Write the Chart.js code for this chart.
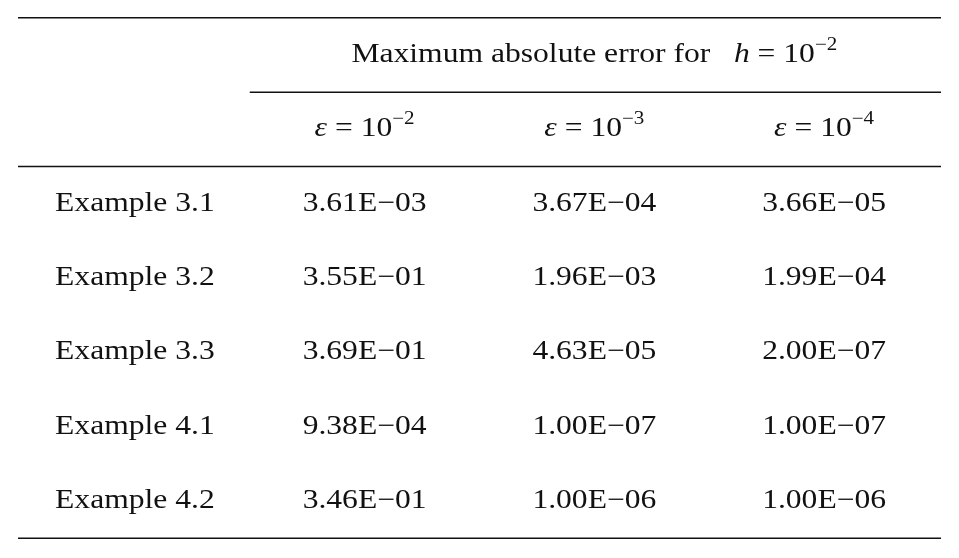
<!DOCTYPE html>
<html><head><meta charset="utf-8">
<script src="https://cdn.jsdelivr.net/npm/chart.js@4"></script>
<style>html,body{margin:0;background:#fff}#w{width:959px;height:558px}</style>
</head><body><div id="w"><canvas id="c"></canvas></div>
<script>
const columns = ['label','e2','e3','e4'];
const rowNames = ['Example 3.1','Example 3.2','Example 3.3','Example 4.1','Example 4.2'];
const epsExponents = ['−2','−3','−4'];
const hExponent = '−2';
const valuesE2 = ['3.61E−03','3.55E−01','3.69E−01','9.38E−04','3.46E−01'];
const valuesE3 = ['3.67E−04','1.96E−03','4.63E−05','1.00E−07','1.00E−06'];
const valuesE4 = ['3.66E−05','1.99E−04','2.00E−07','1.00E−07','1.00E−06'];
const yRows = ['h1','h2'].concat(rowNames);

const cells = [];
rowNames.forEach((r,i)=>{
  cells.push({x:'label',y:r,t:r});
  cells.push({x:'e2',y:r,t:valuesE2[i]});
  cells.push({x:'e3',y:r,t:valuesE3[i]});
  cells.push({x:'e4',y:r,t:valuesE4[i]});
});
const headCells = epsExponents.map((e,i)=>({x:columns[i+1],y:'h2',t:e}));
const F = '"Liberation Serif", "DejaVu Serif", serif';
const SX = 1.17;

const tablePlugin = {
  id:'table',
  afterDatasetsDraw(chart){
    const ctx = chart.ctx, xs = chart.scales.x, ys = chart.scales.y;
    // horizontally stretched text drawing
    const txt=(s,x,y,font)=>{ctx.save();ctx.font=font;ctx.translate(x,y);ctx.scale(SX,1);ctx.fillText(s,0,0);ctx.restore();};
    const wid=(s,font)=>{ctx.font=font;return ctx.measureText(s).width*SX;};
    ctx.save();
    ctx.fillStyle = '#111'; ctx.textBaseline = 'middle'; ctx.textAlign='left';
    const N='27px '+F, I='italic 27px '+F, S='18px '+F;
    chart.getDatasetMeta(0).data.forEach((p,i)=>{ const w=wid(cells[i].t,N); txt(cells[i].t,p.x-w/2,p.y,N); });
    chart.getDatasetMeta(1).data.forEach((p,i)=>{
      const e = headCells[i].t;
      const w1=wid('ε',I), w2=wid(' = 10',N), w3=wid(e,S);
      let x = p.x-(w1+w2+w3)/2;
      txt('ε',x,p.y,I); x+=w1; txt(' = 10',x,p.y,N); x+=w2; txt(e,x,p.y-10,S);
    });
    const hy = ys.getPixelForValue(0);
    const hx = (xs.getPixelForValue(1)+xs.getPixelForValue(3))/2;
    const s0='Maximum absolute error for   ';
    const a=wid(s0,N), b=wid('h',I), c=wid(' = 10',N), d=wid(hExponent,S);
    let x = hx-(a+b+c+d)/2;
    txt(s0,x,hy,N); x+=a; txt('h',x,hy,I); x+=b; txt(' = 10',x,hy,N); x+=c; txt(hExponent,x,hy-10,S);
    const step = ys.getPixelForValue(1)-ys.getPixelForValue(0);
    const L = chart.chartArea.left-2, R = chart.chartArea.right+2;
    const mid = (xs.getPixelForValue(0)+xs.getPixelForValue(1))/2;
    ctx.strokeStyle='#111'; ctx.lineWidth=1.5;
    const line=(x1,x2,y)=>{ctx.beginPath();ctx.moveTo(x1,y);ctx.lineTo(x2,y);ctx.stroke();};
    line(L,R,hy-step/2);
    line(mid,R,hy+step/2);
    line(L,R,ys.getPixelForValue(1)+step/2);
    line(L,R,ys.getPixelForValue(yRows.length-1)+step/2);
    ctx.restore();
  }
};

new Chart(document.getElementById('c'),{
  type:'scatter',
  data:{datasets:[
    {data:cells.map(c=>({x:c.x,y:c.y})),pointRadius:0},
    {data:headCells.map(c=>({x:c.x,y:c.y})),pointRadius:0}
  ]},
  options:{
    responsive:true,maintainAspectRatio:false,animation:false,
    layout:{padding:{left:20,right:20,top:55,bottom:57}},
    plugins:{legend:{display:false},tooltip:{enabled:false}},
    scales:{
      x:{type:'category',labels:columns,offset:true,display:false},
      y:{type:'category',labels:yRows,offset:false,display:false}
    }
  },
  plugins:[tablePlugin]
});
</script></body></html>
